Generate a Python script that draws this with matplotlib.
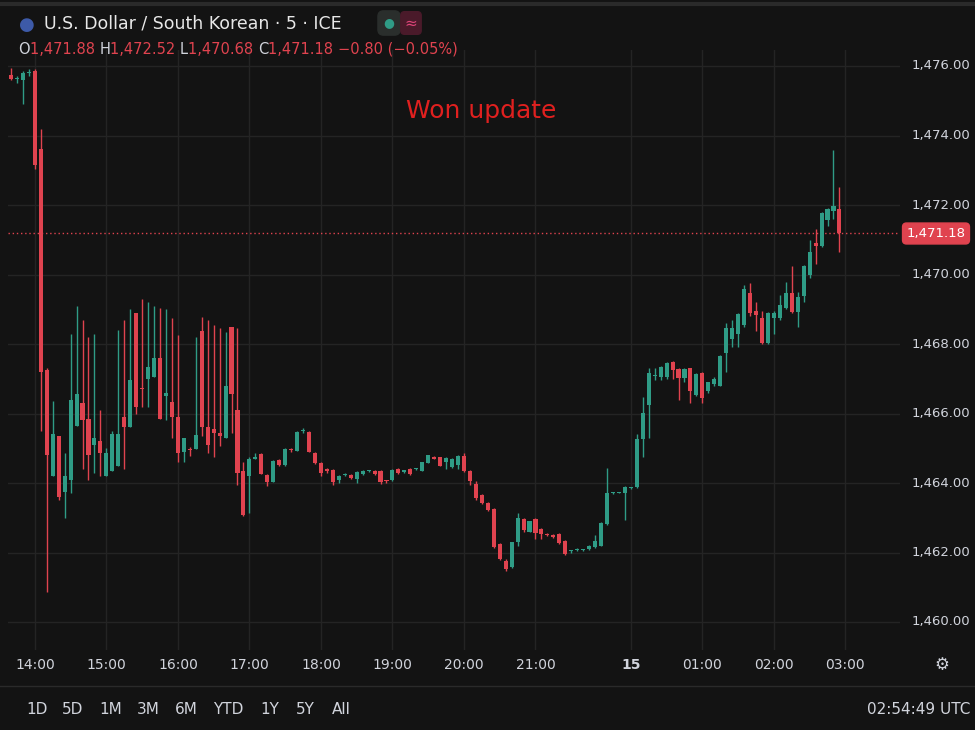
import matplotlib
matplotlib.use("Agg")
import matplotlib.pyplot as plt
import numpy as np

opens = [1475.74,1475.62,1475.6,1475.8,1475.85,1473.6,1467.25,1464.2,1465.35,1463.75,
         1464.1,1465.65,1466.3,1465.85,1465.1,1465.2,1464.2,1464.35,1464.5,1465.9,
         1465.6,1468.9,1466.72,1467.0,1467.05,1467.6,1466.5,1466.33,1465.9,1464.9,
         1464.97,1464.98,1468.37,1465.6,1465.55,1465.45,1465.3,1468.5,1466.1,1464.35,
         1464.2,1464.7,1464.83,1464.23,1464.03,1464.66,1464.52,1464.96,1464.92,1465.5,
         1465.47,1464.86,1464.57,1464.4,1464.37,1464.08,1464.22,1464.23,1464.11,1464.26,
         1464.34,1464.34,1464.34,1464.06,1464.08,1464.4,1464.33,1464.4,1464.39,1464.34,
         1464.57,1464.75,1464.74,1464.6,1464.46,1464.52,1464.78,1464.34,1463.97,1463.66,
         1463.42,1463.25,1462.24,1461.76,1461.58,1462.3,1462.96,1462.6,1462.96,1462.68,
         1462.53,1462.5,1462.53,1462.33,1462.04,1462.08,1462.07,1462.1,1462.16,1462.2,
         1462.82,1463.7,1463.71,1463.71,1463.85,1463.88,1465.27,1466.24,1467.08,1467.05,
         1467.05,1467.48,1467.28,1467.02,1467.3,1466.53,1467.16,1466.65,1466.85,1466.8,
         1467.74,1468.14,1468.3,1468.55,1469.47,1468.95,1468.75,1468.03,1468.75,1468.75,
         1469.03,1469.47,1468.92,1469.38,1469.98,1470.9,1470.82,1471.57,1471.83,1471.88]
closes = [1475.63,1475.65,1475.8,1475.82,1473.15,1467.2,1464.8,1465.4,1463.6,1464.2,
          1466.4,1466.55,1465.8,1464.8,1465.3,1464.85,1464.85,1465.4,1465.4,1465.6,
          1466.95,1466.2,1466.7,1467.35,1467.6,1465.85,1466.6,1465.9,1464.86,1465.3,
          1464.95,1465.38,1465.6,1465.1,1465.45,1465.35,1466.8,1466.56,1464.3,1463.08,
          1464.7,1464.75,1464.26,1464.03,1464.63,1464.52,1464.98,1464.95,1465.47,1465.52,
          1464.9,1464.57,1464.3,1464.34,1464.03,1464.2,1464.23,1464.14,1464.32,1464.34,
          1464.34,1464.26,1464.03,1464.05,1464.37,1464.28,1464.34,1464.26,1464.4,1464.6,
          1464.8,1464.7,1464.5,1464.72,1464.7,1464.78,1464.34,1464.05,1463.57,1463.42,
          1463.22,1462.16,1461.81,1461.52,1462.3,1463.0,1462.65,1462.9,1462.56,1462.53,
          1462.5,1462.45,1462.27,1461.96,1462.05,1462.1,1462.07,1462.2,1462.33,1462.85,
          1463.7,1463.71,1463.72,1463.88,1463.86,1465.27,1466.0,1467.17,1467.1,1467.34,
          1467.45,1467.25,1467.02,1467.28,1466.65,1467.13,1466.45,1466.9,1467.0,1467.65,
          1468.46,1468.46,1468.86,1469.58,1468.9,1468.83,1468.03,1468.9,1468.9,1469.12,
          1469.47,1468.92,1469.35,1470.24,1470.64,1470.82,1471.77,1471.88,1471.97,1471.18]
highs = [1475.94,1475.7,1475.85,1475.9,1475.9,1474.2,1467.3,1466.35,1465.35,1464.85,
         1468.3,1469.1,1468.7,1468.2,1468.3,1466.1,1465.0,1465.5,1468.4,1468.7,
         1469.0,1468.9,1469.3,1469.2,1469.1,1469.05,1469.0,1468.75,1468.26,1465.3,
         1465.05,1468.2,1468.78,1468.7,1468.55,1468.46,1468.35,1468.5,1468.46,1464.6,
         1464.75,1464.86,1464.86,1464.26,1464.66,1464.7,1465.0,1465.02,1465.5,1465.58,
         1465.5,1464.9,1464.6,1464.42,1464.4,1464.22,1464.28,1464.26,1464.35,1464.36,
         1464.36,1464.36,1464.36,1464.1,1464.4,1464.42,1464.38,1464.42,1464.42,1464.6,
         1464.82,1464.78,1464.76,1464.74,1464.72,1464.8,1464.85,1464.36,1464.05,1463.68,
         1463.44,1463.27,1462.26,1461.8,1462.3,1463.13,1462.98,1462.92,1462.98,1462.7,
         1462.55,1462.52,1462.55,1462.35,1462.08,1462.12,1462.1,1462.22,1462.5,1462.87,
         1464.43,1463.74,1463.75,1463.9,1463.88,1465.4,1466.47,1467.3,1467.3,1467.36,
         1467.47,1467.5,1467.3,1467.3,1467.32,1467.16,1467.2,1466.92,1467.05,1467.67,
         1468.6,1468.7,1468.9,1469.7,1469.76,1469.2,1468.95,1468.93,1468.95,1469.4,
         1469.78,1470.24,1469.5,1470.26,1471.0,1471.3,1471.8,1471.92,1473.58,1472.52]
lows = [1475.6,1475.5,1474.9,1475.7,1473.05,1465.5,1460.85,1464.2,1463.5,1463.0,
        1463.7,1465.65,1464.4,1464.1,1464.3,1464.2,1464.2,1464.35,1464.5,1464.4,
        1465.6,1466.0,1466.2,1466.2,1467.05,1465.85,1465.8,1465.3,1464.6,1464.6,
        1464.78,1464.98,1465.35,1464.86,1464.75,1465.06,1465.3,1465.44,1463.94,1463.06,
        1463.13,1464.7,1464.26,1463.9,1464.03,1464.5,1464.5,1464.88,1464.92,1465.45,
        1464.88,1464.55,1464.2,1464.3,1463.94,1464.0,1464.2,1464.12,1464.0,1464.24,
        1464.32,1464.24,1463.97,1464.0,1464.06,1464.26,1464.3,1464.24,1464.38,1464.34,
        1464.57,1464.68,1464.48,1464.4,1464.44,1464.4,1464.32,1463.94,1463.5,1463.4,
        1463.2,1462.14,1461.78,1461.47,1461.56,1462.2,1462.6,1462.58,1462.4,1462.4,
        1462.48,1462.43,1462.25,1461.94,1462.0,1462.05,1462.04,1462.08,1462.14,1462.18,
        1462.8,1463.68,1463.7,1462.93,1463.84,1463.86,1464.75,1465.3,1466.95,1466.95,
        1467.0,1467.0,1466.4,1466.9,1466.3,1466.5,1466.3,1466.6,1466.8,1466.78,
        1467.2,1467.9,1467.9,1468.5,1468.8,1468.38,1468.0,1468.0,1468.3,1468.7,
        1469.0,1468.88,1468.5,1469.2,1469.9,1470.3,1470.8,1471.4,1471.6,1470.65]
tick_pos = [4, 16, 28, 40, 52, 64, 76, 88, 104, 116, 128, 140]
tick_labels = ["14:00","15:00","16:00","17:00","18:00","19:00","20:00","21:00","15","01:00","02:00","03:00"]
price_ticks = [1460, 1462, 1464, 1466, 1468, 1470, 1472, 1474, 1476]
last_price = 1471.18

BG = "#131313"; GRID = "#242424"; TXT = "#d1d4dc"
UP = "#2f9c86"; DOWN = "#e0434f"

fig = plt.figure(figsize=(9.75, 7.3), dpi=100, facecolor=BG)
W, H = 975, 730
def fx(px): return px / W
def fy(py): return 1 - py / H

ax = fig.add_axes([fx(8), fy(650), fx(900 - 8), (650 - 50) / H])
ax.set_facecolor(BG)
n = len(opens)
x = np.arange(n)
o = np.array(opens); c = np.array(closes); hi = np.array(highs); lo = np.array(lows)
cols = [UP if cc >= oo else DOWN for oo, cc in zip(o, c)]
ax.vlines(x, lo, hi, colors=cols, linewidth=1.0, zorder=3)
bottom = np.minimum(o, c); height = np.maximum(np.abs(c - o), 0.035)
ax.bar(x, height, bottom=bottom, width=0.68, color=cols, zorder=4, linewidth=0)

x0 = (8 - 11) / 5.96; x1 = (900 - 11) / 5.96
ax.set_xlim(x0, x1)
ax.set_ylim(1460 - (650 - 622) / 34.75, 1476 + (66 - 50) / 34.75)
for t in tick_pos:
    ax.axvline(t, color=GRID, lw=1, zorder=1)
for p in price_ticks:
    ax.axhline(p, color=GRID, lw=1, zorder=1)
ax.axhline(last_price, color=DOWN, lw=1, ls=(0, (1, 2)), zorder=2)
ax.set_xticks([]); ax.set_yticks([])
for s in ax.spines.values():
    s.set_visible(False)

for p in price_ticks:
    yy = fy(66 + (1476 - p) * 34.75)
    fig.text(fx(970), yy, f"{p:,.2f}", color=TXT, fontsize=9.5, ha="right", va="center")
ly = fy(66 + (1476 - last_price) * 34.75)
fig.text(fx(936), ly, f"{last_price:,.2f}", color="white", fontsize=9.5, ha="center", va="center",
         bbox=dict(boxstyle="round,pad=0.3", fc=DOWN, ec=DOWN))

for t, lab in zip(tick_pos, tick_labels):
    px = 11 + t * 5.96
    fig.text(fx(px), fy(665), lab, color=TXT, fontsize=10, ha="center", va="center",
             fontweight="bold" if lab == "15" else "normal")
fig.text(fx(942), fy(665), "⚙", color=TXT, fontsize=12, ha="center", va="center")

fig.add_artist(plt.Line2D([0, 1], [fy(686), fy(686)], color="#2a2a2a", lw=1))
fig.add_artist(plt.Line2D([0, 1], [fy(4), fy(4)], color="#2a2a2a", lw=3))
xs = [37, 73, 111, 148, 186, 228, 270, 305, 341]
for xx, lab in zip(xs, ["1D","5D","1M","3M","6M","YTD","1Y","5Y","All"]):
    fig.text(fx(xx), fy(709), lab, color=TXT, fontsize=11, ha="center", va="center")
fig.text(fx(970), fy(709), "02:54:49 UTC", color=TXT, fontsize=11, ha="right", va="center")

fig.text(fx(27), fy(25), "●", color="#3d5aa8", fontsize=13, ha="center", va="center")
fig.text(fx(44), fy(23), "U.S. Dollar / South Korean · 5 · ICE", color="#e8e8e8", fontsize=12.5,
         ha="left", va="center")
fig.text(fx(389), fy(23), "●", color=UP, fontsize=9, ha="center", va="center",
         bbox=dict(boxstyle="round,pad=0.45", fc="#2a2e2c", ec="#2a2e2c"))
fig.text(fx(411), fy(23), "≈", color="#e0457a", fontsize=11, ha="center", va="center",
         bbox=dict(boxstyle="round,pad=0.25", fc="#4a1a2a", ec="#4a1a2a"))
parts = [("O", TXT), ("1,471.88 ", DOWN), ("H", TXT), ("1,472.52 ", DOWN), ("L", TXT),
         ("1,470.68 ", DOWN), ("C", TXT), ("1,471.18 ", DOWN), ("−0.80 (−0.05%)", DOWN)]
xpos = 18
for s, col in parts:
    t = fig.text(fx(xpos), fy(49), s, color=col, fontsize=10.5, ha="left", va="center")
    fig.canvas.draw()
    bb = t.get_window_extent()
    xpos += bb.width

fig.text(fx(481), fy(111), "Won update", color="#e0201f", fontsize=18, ha="center", va="center")

fig.savefig("out.png", dpi=100, facecolor=BG)
